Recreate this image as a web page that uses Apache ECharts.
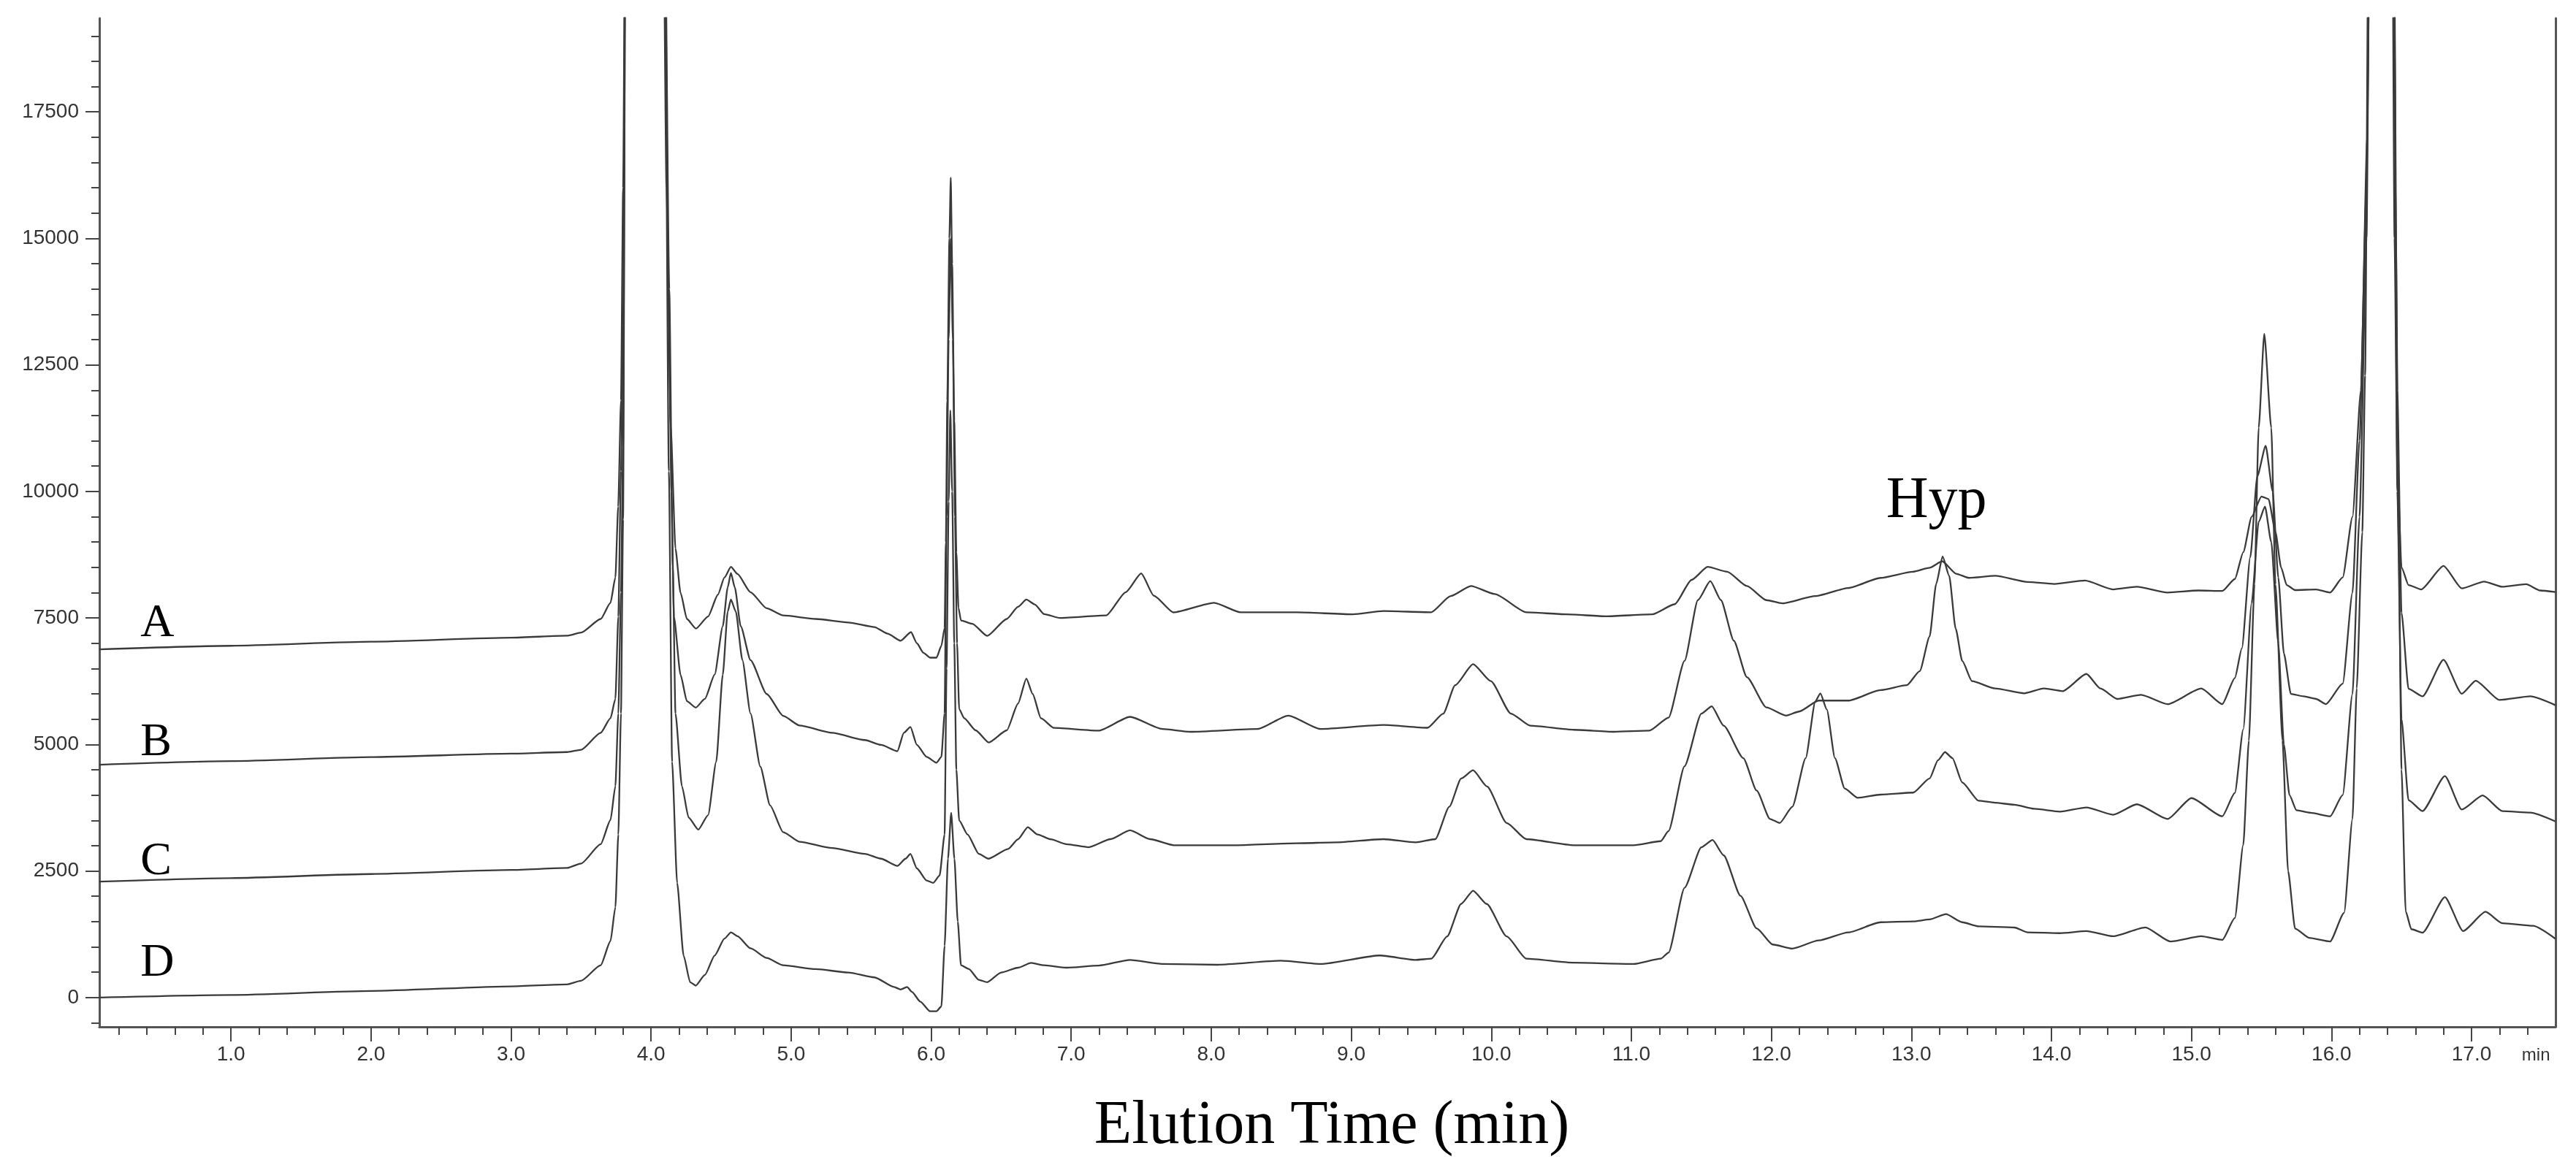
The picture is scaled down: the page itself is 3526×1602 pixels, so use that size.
<!DOCTYPE html>
<html>
<head>
<meta charset="utf-8">
<script src="https://cdn.jsdelivr.net/npm/echarts@6/dist/echarts.min.js"></script>
<style>
html,body{margin:0;padding:0;background:#fff;}
#c{width:3526px;height:1602px;}
</style>
</head>
<body>
<div id="c"></div>
<script>
// ---- data (time in min, detector response) ----
const X_MIN = 0.06, X_MAX = 17.6;
const Y_MIN = -580, Y_MAX = 19350;
const xMajorTicks = [1,2,3,4,5,6,7,8,9,10,11,12,13,14,15,16,17];
const xMinorTicks = [0.2,0.4,0.6,0.8,1.2,1.4,1.6,1.8,2.2,2.4,2.6,2.8,3.2,3.4,3.6,3.8,4.2,4.4,4.6,4.8,5.2,5.4,5.6,5.8,6.2,6.4,6.6,6.8,7.2,7.4,7.6,7.8,8.2,8.4,8.6,8.8,9.2,9.4,9.6,9.8,10.2,10.4,10.6,10.8,11.2,11.4,11.6,11.8,12.2,12.4,12.6,12.8,13.2,13.4,13.6,13.8,14.2,14.4,14.6,14.8,15.2,15.4,15.6,15.8,16.2,16.4,16.6,16.8,17.2,17.4];
const yMajorTicks = [0,2500,5000,7500,10000,12500,15000,17500];
const yMinorTicks = [-500,500,1000,1500,2000,3000,3500,4000,4500,5500,6000,6500,7000,8000,8500,9000,9500,10500,11000,11500,12000,13000,13500,14000,14500,15500,16000,16500,17000,18000,18500,19000];
const traceLabels = ['A','B','C','D'];
const traceLabelAnchors = [[0.353,7071],[0.353,4719],[0.353,2367],[0.353,361]];
const peakLabel = 'Hyp';
const peakLabelAnchor = [12.82,9408];
const xTitle = 'Elution Time (min)';

const traceA = [[0.06,6880],[1.0,6950],[2.0,7030],[3.0,7110],[3.4,7150],[3.5,7210],[3.64,7480],[3.71,7800],[3.745,8300],[3.765,9700],[3.785,11800],[3.80,16000],[3.82,24000],[4.08,24000],[4.11,16000],[4.14,11300],[4.174,8870],[4.21,8000],[4.256,7480],[4.32,7290],[4.407,7530],[4.477,7960],[4.524,8300],[4.57,8510],[4.617,8370],[4.71,8010],[4.826,7690],[4.943,7550],[5.176,7480],[5.409,7410],[5.595,7320],[5.689,7190],[5.782,7050],[5.856,7220],[5.898,7000],[5.945,6810],[5.992,6715],[6.038,6715],[6.073,6950],[6.096,7300],[6.105,9000],[6.115,11800],[6.13,15000],[6.14,16200],[6.15,14500],[6.165,11400],[6.18,8800],[6.195,7700],[6.213,7450],[6.294,7385],[6.40,7146],[6.54,7480],[6.62,7720],[6.68,7863],[6.74,7768],[6.807,7576],[6.92,7500],[7.25,7550],[7.39,8010],[7.50,8380],[7.59,7940],[7.73,7610],[8.02,7800],[8.21,7612],[8.61,7612],[9.01,7572],[9.23,7636],[9.57,7612],[9.71,7932],[9.855,8132],[10.025,7972],[10.25,7612],[10.535,7572],[10.82,7532],[11.15,7572],[11.31,7772],[11.43,8252],[11.545,8509],[11.685,8413],[11.825,8132],[11.965,7852],[12.08,7788],[12.314,7932],[12.55,8092],[12.78,8292],[13.01,8413],[13.13,8493],[13.22,8620],[13.32,8373],[13.41,8292],[13.60,8333],[13.83,8212],[14.02,8172],[14.24,8239],[14.44,8064],[14.61,8116],[14.83,8002],[15.05,8043],[15.22,8033],[15.31,8270],[15.37,8800],[15.43,9500],[15.50,9900],[15.55,9850],[15.60,9200],[15.64,8500],[15.68,8150],[15.74,8050],[15.89,8064],[15.99,8002],[16.08,8300],[16.15,9500],[16.21,12000],[16.255,17000],[16.28,24000],[16.43,24000],[16.45,15000],[16.47,10500],[16.50,8500],[16.55,8150],[16.64,8064],[16.80,8528],[16.93,8085],[17.09,8218],[17.22,8116],[17.39,8167],[17.49,8043],[17.6,8013]];

const traceB = [[0.06,4600],[1.0,4670],[2.0,4750],[3.0,4820],[3.4,4850],[3.5,4896],[3.64,5231],[3.71,5518],[3.745,5900],[3.766,7530],[3.785,10400],[3.80,13270],[3.82,24000],[4.09,24000],[4.125,14000],[4.145,10000],[4.163,7530],[4.21,6380],[4.256,5854],[4.319,5729],[4.384,5901],[4.454,6380],[4.512,7337],[4.547,8102],[4.57,8390],[4.598,8102],[4.64,7337],[4.71,6667],[4.826,5997],[4.943,5566],[5.06,5375],[5.293,5231],[5.526,5088],[5.642,4992],[5.759,4868],[5.805,5231],[5.852,5346],[5.898,4992],[5.968,4753],[6.038,4638],[6.073,4753],[6.096,5614],[6.11,9500],[6.125,13000],[6.14,15000],[6.155,13000],[6.17,9500],[6.185,7000],[6.20,5700],[6.236,5518],[6.318,5279],[6.411,5040],[6.54,5279],[6.62,5806],[6.68,6303],[6.725,5997],[6.784,5518],[6.877,5327],[7.196,5274],[7.42,5546],[7.65,5306],[7.85,5250],[8.33,5306],[8.55,5570],[8.78,5306],[9.23,5386],[9.545,5330],[9.657,5610],[9.742,6171],[9.87,6587],[9.997,6251],[10.14,5610],[10.28,5370],[10.59,5290],[10.874,5250],[11.13,5274],[11.266,5530],[11.38,6651],[11.475,7852],[11.564,8228],[11.64,7852],[11.732,7051],[11.825,6331],[11.965,5731],[12.105,5570],[12.198,5651],[12.338,5867],[12.55,5867],[12.78,6075],[12.967,6171],[13.06,6451],[13.13,7131],[13.177,8172],[13.223,8717],[13.27,8333],[13.316,7292],[13.363,6651],[13.433,6251],[13.596,6107],[13.806,6011],[13.946,6107],[14.08,6054],[14.25,6394],[14.35,6106],[14.47,5900],[14.64,5982],[14.83,5797],[15.07,6106],[15.22,5797],[15.31,6312],[15.36,6900],[15.42,8700],[15.47,10300],[15.53,10900],[15.58,10000],[15.62,8300],[15.66,6800],[15.71,6000],[15.80,5951],[15.89,5900],[15.96,5797],[16.08,6200],[16.15,8000],[16.20,11000],[16.25,16000],[16.28,24000],[16.44,24000],[16.47,12000],[16.50,7600],[16.55,6100],[16.65,5951],[16.80,6673],[16.93,6003],[17.03,6260],[17.2,5879],[17.42,5951],[17.6,5776]];

const traceC = [[0.06,2290],[1.0,2360],[2.0,2440],[3.0,2520],[3.4,2560],[3.5,2647],[3.64,3030],[3.71,3508],[3.745,4178],[3.766,5614],[3.785,8007],[3.80,10878],[3.82,24000],[4.09,24000],[4.13,14000],[4.155,8500],[4.174,5614],[4.22,4178],[4.268,3556],[4.337,3317],[4.407,3604],[4.465,4657],[4.512,6380],[4.547,7624],[4.57,7863],[4.605,7624],[4.652,6667],[4.71,5614],[4.78,4561],[4.85,3795],[4.943,3269],[5.06,3078],[5.293,2953],[5.526,2839],[5.642,2743],[5.759,2600],[5.817,2743],[5.852,2839],[5.898,2552],[5.968,2312],[6.015,2265],[6.06,2408],[6.096,3221],[6.11,6500],[6.125,9800],[6.137,11600],[6.15,10000],[6.165,7000],[6.18,4500],[6.20,3500],[6.26,3221],[6.34,2839],[6.41,2743],[6.55,2935],[6.62,3126],[6.69,3365],[6.76,3221],[6.854,3126],[6.965,3030],[7.125,2969],[7.28,3129],[7.42,3305],[7.564,3129],[7.733,3009],[8.186,3009],[8.61,3049],[8.893,3065],[9.23,3129],[9.46,3065],[9.6,3129],[9.70,3769],[9.785,4329],[9.87,4490],[9.97,4169],[10.11,3449],[10.25,3129],[10.59,3009],[11.015,3009],[11.21,3089],[11.266,3289],[11.38,4570],[11.50,5610],[11.574,5754],[11.66,5370],[11.80,4730],[11.895,4089],[11.99,3529],[12.06,3449],[12.15,3769],[12.245,4730],[12.314,5851],[12.35,6011],[12.396,5691],[12.454,4730],[12.524,4129],[12.617,3945],[12.78,4009],[13.013,4049],[13.13,4329],[13.19,4690],[13.24,4850],[13.293,4730],[13.363,4250],[13.48,3889],[13.596,3849],[13.736,3809],[13.876,3729],[14.06,3673],[14.25,3756],[14.44,3612],[14.61,3818],[14.83,3529],[15.0,3941],[15.22,3581],[15.31,4044],[15.37,5300],[15.43,7800],[15.48,9400],[15.525,9700],[15.57,9000],[15.62,7000],[15.66,5000],[15.70,4000],[15.75,3700],[15.85,3650],[15.99,3581],[16.08,4000],[16.15,6000],[16.20,9500],[16.25,15000],[16.28,24000],[16.44,24000],[16.47,10000],[16.50,5500],[16.55,3900],[16.65,3684],[16.81,4374],[16.93,3715],[17.08,3993],[17.22,3684],[17.42,3653],[17.6,3478]];

const traceD = [[0.06,0],[1.0,50],[2.0,130],[3.0,220],[3.4,260],[3.5,331],[3.64,637],[3.71,1116],[3.745,1786],[3.766,3221],[3.785,5614],[3.80,9443],[3.82,24000],[4.09,24000],[4.127,10400],[4.15,4657],[4.186,2265],[4.232,829],[4.279,302],[4.319,235],[4.384,446],[4.454,829],[4.524,1164],[4.57,1288],[4.617,1212],[4.71,972],[4.826,781],[4.943,637],[5.176,561],[5.409,494],[5.595,398],[5.735,207],[5.782,159],[5.828,207],[5.863,111],[5.922,-80],[5.992,-272],[6.038,-272],[6.073,-176],[6.096,1020],[6.12,2743],[6.143,3650],[6.166,2743],[6.19,1499],[6.213,637],[6.27,561],[6.34,350],[6.40,302],[6.50,494],[6.62,589],[6.714,685],[6.807,637],[6.965,589],[7.196,631],[7.42,743],[7.65,663],[8.045,647],[8.497,727],[8.78,663],[9.205,831],[9.46,743],[9.572,767],[9.685,1207],[9.784,1848],[9.87,2111],[9.968,1848],[10.11,1207],[10.25,767],[10.59,687],[11.015,663],[11.21,767],[11.266,887],[11.38,2168],[11.50,2968],[11.58,3112],[11.66,2808],[11.78,2008],[11.895,1367],[12.01,1047],[12.15,967],[12.338,1127],[12.55,1287],[12.78,1487],[13.013,1503],[13.13,1543],[13.247,1647],[13.363,1487],[13.48,1407],[13.736,1383],[13.83,1287],[14.06,1271],[14.25,1313],[14.44,1210],[14.67,1385],[14.85,1107],[15.07,1210],[15.22,1138],[15.31,1571],[15.37,3014],[15.41,5075],[15.45,8167],[15.48,11259],[15.52,13114],[15.57,11259],[15.60,8167],[15.65,5075],[15.69,2498],[15.74,1364],[15.84,1179],[15.99,1107],[16.09,1674],[16.15,3529],[16.18,6106],[16.22,9198],[16.24,12290],[16.27,24000],[16.44,24000],[16.46,15000],[16.48,9000],[16.50,4500],[16.53,1700],[16.57,1350],[16.65,1282],[16.81,1983],[16.94,1313],[17.10,1694],[17.22,1468],[17.44,1416],[17.6,1159]];

const traces = [traceA, traceB, traceC, traceD];

// ---- chart ----
const chart = echarts.init(document.getElementById('c'), null, {renderer: 'canvas'});
const axisColor = '#555';
const tickColor = '#444';
const labelFont = 'Liberation Sans, Arial, sans-serif';
const serifFont = 'Liberation Serif, Times New Roman, serif';

const grid = {left: 136, right: 28, top: 25, bottom: 196};

const option = {
  animation: false,
  backgroundColor: '#ffffff',
  grid: grid,
  xAxis: [
    {
      type: 'value', min: X_MIN, max: X_MAX, position: 'bottom',
      axisLine: {show: true, onZero: false, lineStyle: {color: axisColor, width: 3}},
      axisTick: {show: true, inside: false, length: 20, customValues: xMajorTicks, lineStyle: {color: tickColor, width: 2}},
      axisLabel: {show: true, customValues: xMajorTicks, margin: 24, fontSize: 28, color: '#333', fontFamily: labelFont,
        formatter: v => Number(v).toFixed(1)},
      splitLine: {show: false}
    },
    {
      type: 'value', min: X_MIN, max: X_MAX, position: 'bottom',
      axisLine: {show: false, onZero: false},
      axisTick: {show: true, inside: false, length: 11, customValues: xMinorTicks, lineStyle: {color: tickColor, width: 2}},
      axisLabel: {show: false},
      splitLine: {show: false}
    }
  ],
  yAxis: [
    {
      type: 'value', min: Y_MIN, max: Y_MAX, position: 'left',
      axisLine: {show: true, onZero: false, lineStyle: {color: axisColor, width: 3}},
      axisTick: {show: true, inside: false, length: 19, customValues: yMajorTicks, lineStyle: {color: tickColor, width: 2}},
      axisLabel: {show: true, customValues: yMajorTicks, margin: 28, fontSize: 28, color: '#333', fontFamily: labelFont,
        formatter: v => String(Math.round(v))},
      splitLine: {show: false}
    },
    {
      type: 'value', min: Y_MIN, max: Y_MAX, position: 'left',
      axisLine: {show: false, onZero: false},
      axisTick: {show: true, inside: false, length: 11, customValues: yMinorTicks, lineStyle: {color: tickColor, width: 2}},
      axisLabel: {show: false},
      splitLine: {show: false}
    },
    {
      type: 'value', min: Y_MIN, max: Y_MAX, position: 'right',
      axisLine: {show: true, onZero: false, lineStyle: {color: axisColor, width: 3}},
      axisTick: {show: false},
      axisLabel: {show: false},
      splitLine: {show: false}
    }
  ],
  series: traces.map((d, i) => ({
    name: traceLabels[i],
    type: 'line',
    xAxisIndex: 0,
    yAxisIndex: 0,
    data: d,
    showSymbol: false,
    symbol: 'none',
    smooth: 0.2,
    smoothMonotone: 'x',
    clip: true,
    lineStyle: {color: '#3a3a3a', width: 2.3},
    z: 3
  }))
};
chart.setOption(option);

// ---- text annotations anchored through the axes ----
const g = [];
const letterSize = 64;
traceLabels.forEach((lab, i) => {
  const p = chart.convertToPixel({xAxisIndex: 0, yAxisIndex: 0}, traceLabelAnchors[i]);
  g.push({type: 'text', x: p[0], y: p[1] - 0.34 * letterSize,
    style: {text: lab, fill: '#000', font: letterSize + 'px ' + serifFont, textAlign: 'left', textVerticalAlign: 'middle', verticalAlign: 'middle'}});
});
const hypSize = 80;
const hp = chart.convertToPixel({xAxisIndex: 0, yAxisIndex: 0}, peakLabelAnchor);
g.push({type: 'text', x: hp[0], y: hp[1] - 0.34 * hypSize,
  style: {text: peakLabel, fill: '#000', font: hypSize + 'px ' + serifFont, textAlign: 'left', textVerticalAlign: 'middle', verticalAlign: 'middle'}});

// x-axis unit and title
const axisY = chart.convertToPixel({xAxisIndex: 0, yAxisIndex: 0}, [X_MIN, Y_MIN])[1];
const minX = chart.convertToPixel({xAxisIndex: 0, yAxisIndex: 0}, [17.46, Y_MIN])[0];
g.push({type: 'text', x: minX, y: axisY + 39,
  style: {text: 'min', fill: '#333', font: '24px ' + labelFont, textAlign: 'center', textVerticalAlign: 'middle', verticalAlign: 'middle'}});
const titleSize = 84;
g.push({type: 'text', x: 1823, y: axisY + 165 - 0.34 * titleSize,
  style: {text: xTitle, fill: '#000', font: titleSize + 'px ' + serifFont, textAlign: 'center', textVerticalAlign: 'middle', verticalAlign: 'middle'}});

chart.setOption({graphic: g});
</script>
</body>
</html>
